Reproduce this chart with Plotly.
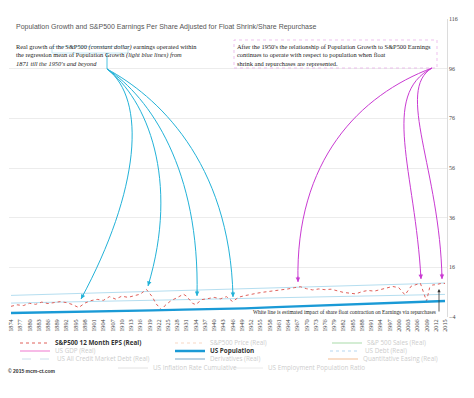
import plotly.graph_objects as go

# ---------------- data ----------------
eps_years = [1874, 1876, 1878, 1880, 1882, 1884, 1886, 1888, 1890, 1892, 1894, 1896, 1898,
             1900, 1902, 1904, 1906, 1908, 1910, 1912, 1914, 1916, 1918, 1920, 1921, 1923,
             1924, 1926, 1928, 1930, 1931, 1933, 1934, 1936, 1938, 1940, 1942, 1944, 1946,
             1948, 1950, 1952, 1954, 1956, 1958, 1960, 1962, 1964, 1966, 1968, 1970, 1972,
             1974, 1976, 1978, 1980, 1982, 1984, 1986, 1988, 1990, 1992, 1994, 1996, 1998,
             2000, 2002, 2004, 2006, 2007, 2008, 2009, 2010, 2011, 2012, 2013, 2014, 2015]
eps_real = [0.3, 0.9, 0.6, 1.5, 1.1, 2.0, 1.4, 1.8, 2.2, 1.8, 1.0, -0.2, 1.6,
            2.6, 3.1, 2.7, 4.2, 3.2, 4.4, 3.9, 4.5, 5.2, 7.1, 4.0, 1.5, -1.2,
            0.6, 2.6, 3.8, 5.2, 4.4, 1.5, 1.0, 3.0, 3.4, 3.9, 3.3, 4.2, 2.2,
            4.0, 4.6, 5.2, 5.6, 6.0, 6.3, 6.6, 6.8, 7.3, 7.8, 8.2, 7.4, 6.9,
            7.3, 7.0, 7.2, 6.4, 5.9, 5.6, 5.3, 6.2, 6.7, 6.4, 7.0, 7.6, 8.3,
            7.8, 4.9, 8.4, 9.3, 9.6, 6.0, 2.4, 7.8, 8.9, 9.0, 9.3, 9.6, 9.5]

pop_years = [1874, 1880, 1890, 1900, 1910, 1920, 1930, 1940, 1950, 1960, 1970, 1980,
             1990, 2000, 2010, 2015]
pop_millions = [44.0, 50.2, 63.0, 76.2, 92.2, 106.0, 123.2, 132.2, 151.3, 179.3, 203.3,
                226.5, 248.7, 281.4, 308.7, 321.4]

channel_years = [1874, 2015]
channel_upper = [4.7, 9.7]
channel_lower = [1.6, 5.1]

tick_years = list(range(1874, 2016, 3))
right_ticks = [-4, 16, 36, 56, 76, 96, 116]

# series present only in the legend (switched off in the original chart)
hidden_series = [
    ("S&P500 Price (Real)", "#f2b48a", "dot", 1.2),
    ("S&P 500 Sales (Real)", "#8fd08f", "solid", 1.5),
    ("US GDP (Real)", "#f07ad0", "solid", 2.0),
    ("US Debt (Real)", "#6fb3e8", "dot", 1.2),
    ("US All Credit Market Debt (Real)", "#9cc0dc", "dash", 1.0),
    ("Derivatives (Real)", "#7ea8c8", "solid", 2.0),
    ("Quantitative Easing (Real)", "#f0a870", "solid", 1.5),
    ("US Inflation Rate Cumulative", "#c8c8c8", "solid", 1.0),
    ("US Employment Population Ratio", "#d8d8d8", "solid", 1.0),
]

# ---------------- geometry helpers (layout only) ----------------
W, H = 474, 398
L, R, T, B = 9, 27, 19, 81
X0, X1 = 1873.35, 2015.65
Y0, Y1 = -4, 116
PW, PH = W - L - R, H - T - B


def dx(px):
    return X0 + (px - L) * (X1 - X0) / PW


def dy(py):
    return Y0 + (H - B - py) * (Y1 - Y0) / PH


def ppx(px):
    return (px - L) / PW


def ppy(py):
    return (H - B - py) / PH


# legend slots: name -> (text start px, row centre px)
legend_slots = {
    "S&P500 12 Month EPS (Real)": (55, 343),
    "S&P500 Price (Real)": (210, 343),
    "S&P 500 Sales (Real)": (367, 343),
    "US GDP (Real)": (55, 351),
    "US Population": (210, 351),
    "US Debt (Real)": (365, 351),
    "US All Credit Market Debt (Real)": (57, 359),
    "Derivatives (Real)": (210, 359),
    "Quantitative Easing (Real)": (363, 359),
    "US Inflation Rate Cumulative": (153, 368),
    "US Employment Population Ratio": (268, 368),
}
legend_ids = {}
for i, nm in enumerate(legend_slots):
    legend_ids[nm] = "legend" if i == 0 else "legend%d" % (i + 1)

fig = go.Figure()

fig.add_trace(go.Scatter(x=channel_years, y=channel_upper, mode="lines",
                         line=dict(color="#b5def0", width=1), showlegend=False,
                         hoverinfo="skip"))
fig.add_trace(go.Scatter(x=channel_years, y=channel_lower, mode="lines",
                         line=dict(color="#b5def0", width=1), showlegend=False,
                         hoverinfo="skip"))

fig.add_trace(go.Scatter(x=eps_years, y=eps_real, mode="lines",
                         name="<b>S&P500 12 Month EPS (Real)</b>",
                         line=dict(color="#e0605a", width=1, dash="dot"),
                         legend=legend_ids["S&P500 12 Month EPS (Real)"]))

fig.add_trace(go.Scatter(x=pop_years, y=pop_millions, mode="lines", yaxis="y2",
                         name="<b>US Population</b>",
                         line=dict(color="#1a9ad6", width=2.3),
                         legend=legend_ids["US Population"]))

for name, col, dash, wid in hidden_series:
    fig.add_trace(go.Scatter(x=[eps_years[0]], y=[None], mode="lines",
                             name="<span style='color:#9a9a9a'>" + name + "</span>",
                             line=dict(color=col, width=wid, dash=dash),
                             visible="legendonly", legend=legend_ids[name]))

# ---------------- shapes ----------------
shapes = []
cyan = "#22b2d8"
mag = "#c93ad2"

shapes.append(dict(type="rect", xref="paper", yref="paper", x0=ppx(52), x1=ppx(128),
                   y0=ppy(53), y1=ppy(46.5), line=dict(color="#a9e0f0", width=0.7)))
shapes.append(dict(type="line", xref="paper", yref="paper", x0=ppx(107), x1=ppx(107),
                   y0=ppy(53), y1=ppy(69), line=dict(color=cyan, width=0.8)))
shapes.append(dict(type="rect", xref="paper", yref="paper", x0=ppx(234), x1=ppx(437),
                   y0=ppy(68), y1=ppy(40), line=dict(color="#e6a6e6", width=0.7, dash="dot")))

cyan_curves = [((107, 69), (147, 99), (140, 190), (81, 299)),
               ((107, 69), (147, 99), (180, 180), (148, 286)),
               ((107, 69), (150, 97), (200, 170), (197, 296)),
               ((107, 69), (155, 95), (230, 160), (233, 297))]
mag_curves = [((432, 68), (360, 95), (295, 160), (298, 282)),
              ((432, 68), (380, 95), (415, 170), (421, 279)),
              ((432, 68), (395, 90), (440, 170), (442, 279))]

annotations = []


def add_curve(pts, color):
    (a, b, c, d) = pts
    path = "M{},{} C{},{} {},{} {},{}".format(dx(a[0]), dy(a[1]), dx(b[0]), dy(b[1]),
                                              dx(c[0]), dy(c[1]), dx(d[0]), dy(d[1]))
    shapes.append(dict(type="path", xref="x", yref="y", path=path,
                       line=dict(color=color, width=1)))
    tx, ty = d[0] - c[0], d[1] - c[1]
    n = (tx * tx + ty * ty) ** 0.5
    annotations.append(dict(x=dx(d[0]), y=dy(d[1]), xref="x", yref="y", text="",
                            showarrow=True, arrowhead=2, arrowsize=0.9, arrowwidth=1,
                            arrowcolor=color, ax=-tx / n * 7, ay=-ty / n * 7))


for cv in cyan_curves:
    add_curve(cv, cyan)
for cv in mag_curves:
    add_curve(cv, mag)

annotations.append(dict(x=dx(439), y=dy(289), xref="x", yref="y", text="", showarrow=True,
                        arrowhead=2, arrowsize=0.8, arrowwidth=0.8, arrowcolor="#333",
                        ax=0, ay=24))

serif = "Liberation Serif, Times New Roman, serif"
annotations.append(dict(
    x=ppx(14), y=ppy(40.5), xref="paper", yref="paper", xanchor="left", yanchor="top",
    align="left", showarrow=False,
    font=dict(family=serif, size=6.4, color="#222"),
    text="Real growth of the S&amp;P500 <i>(constant dollar)</i> earnings operated within<br>"
         "the regression mean of Population Growth <i>(light blue lines) from</i><br>"
         "<i>1871 till the 1950's and beyond</i>"))
annotations.append(dict(
    x=ppx(235), y=ppy(40.5), xref="paper", yref="paper", xanchor="left", yanchor="top",
    align="left", showarrow=False,
    font=dict(family=serif, size=6.4, color="#222"),
    text="After the 1950's the relationship of Population Growth to S&amp;P500 Earnings<br>"
         "continues to operate with respect to population when float<br>"
         "shrink and repurchases are represented."))
annotations.append(dict(
    x=ppx(438), y=ppy(312), xref="paper", yref="paper", xanchor="right", yanchor="middle",
    showarrow=False, font=dict(family=serif, size=5.4, color="#222"),
    text="White line is estimated impact of share float contraction on Earnings via repurchases"))
annotations.append(dict(
    x=ppx(14), y=ppy(27), xref="paper", yref="paper", xanchor="left", yanchor="middle",
    showarrow=False, font=dict(family="Liberation Sans, Arial, sans-serif", size=7, color="#555"),
    text="Population Growth and S&amp;P500 Earnings Per Share Adjusted for Float Shrink/Share Repurchase"))
annotations.append(dict(
    x=ppx(6), y=ppy(371), xref="paper", yref="paper", xanchor="left", yanchor="middle",
    showarrow=False, font=dict(family="Liberation Sans, Arial, sans-serif", size=5, color="#333"),
    text="<b>© 2015 mcm-ct.com</b>"))

# ---------------- layout ----------------
lg_common = dict(orientation="h", xanchor="left", yanchor="middle",
                 bgcolor="rgba(0,0,0,0)", borderwidth=0,
                 font=dict(size=6.3, family="Open Sans, Liberation Sans, sans-serif", color="#333"),
                 itemwidth=30, itemclick=False, itemdoubleclick=False)

legend_layout = {}
for nm, (tx, ty) in legend_slots.items():
    legend_layout[legend_ids[nm]] = dict(lg_common, x=ppx(tx - 40), y=ppy(ty))

fig.update_layout(
    width=W, height=H,
    margin=dict(l=L, r=R, t=T, b=B, pad=0, autoexpand=False),
    paper_bgcolor="white", plot_bgcolor="white",
    showlegend=True,
    xaxis=dict(range=[X0, X1], tickvals=tick_years, tickangle=-90, showgrid=False,
               zeroline=False, showline=False, ticks="",
               tickfont=dict(family=serif, size=6.3, color="#444")),
    yaxis=dict(range=[Y0, Y1], side="right", tickvals=right_ticks, showgrid=True,
               gridcolor="#ececec", gridwidth=0.6, zeroline=False, showline=True,
               linecolor="#dcdcdc", linewidth=0.8, ticks="",
               tickfont=dict(family=serif, size=6, color="#444")),
    yaxis2=dict(range=[-48.5, 6841], overlaying="y", visible=False),
    shapes=shapes,
    annotations=annotations,
    **legend_layout,
)

fig.write_html("out.html", config={"displayModeBar": False},
               post_script="document.body.style.margin='0';document.body.style.overflow='hidden';")
